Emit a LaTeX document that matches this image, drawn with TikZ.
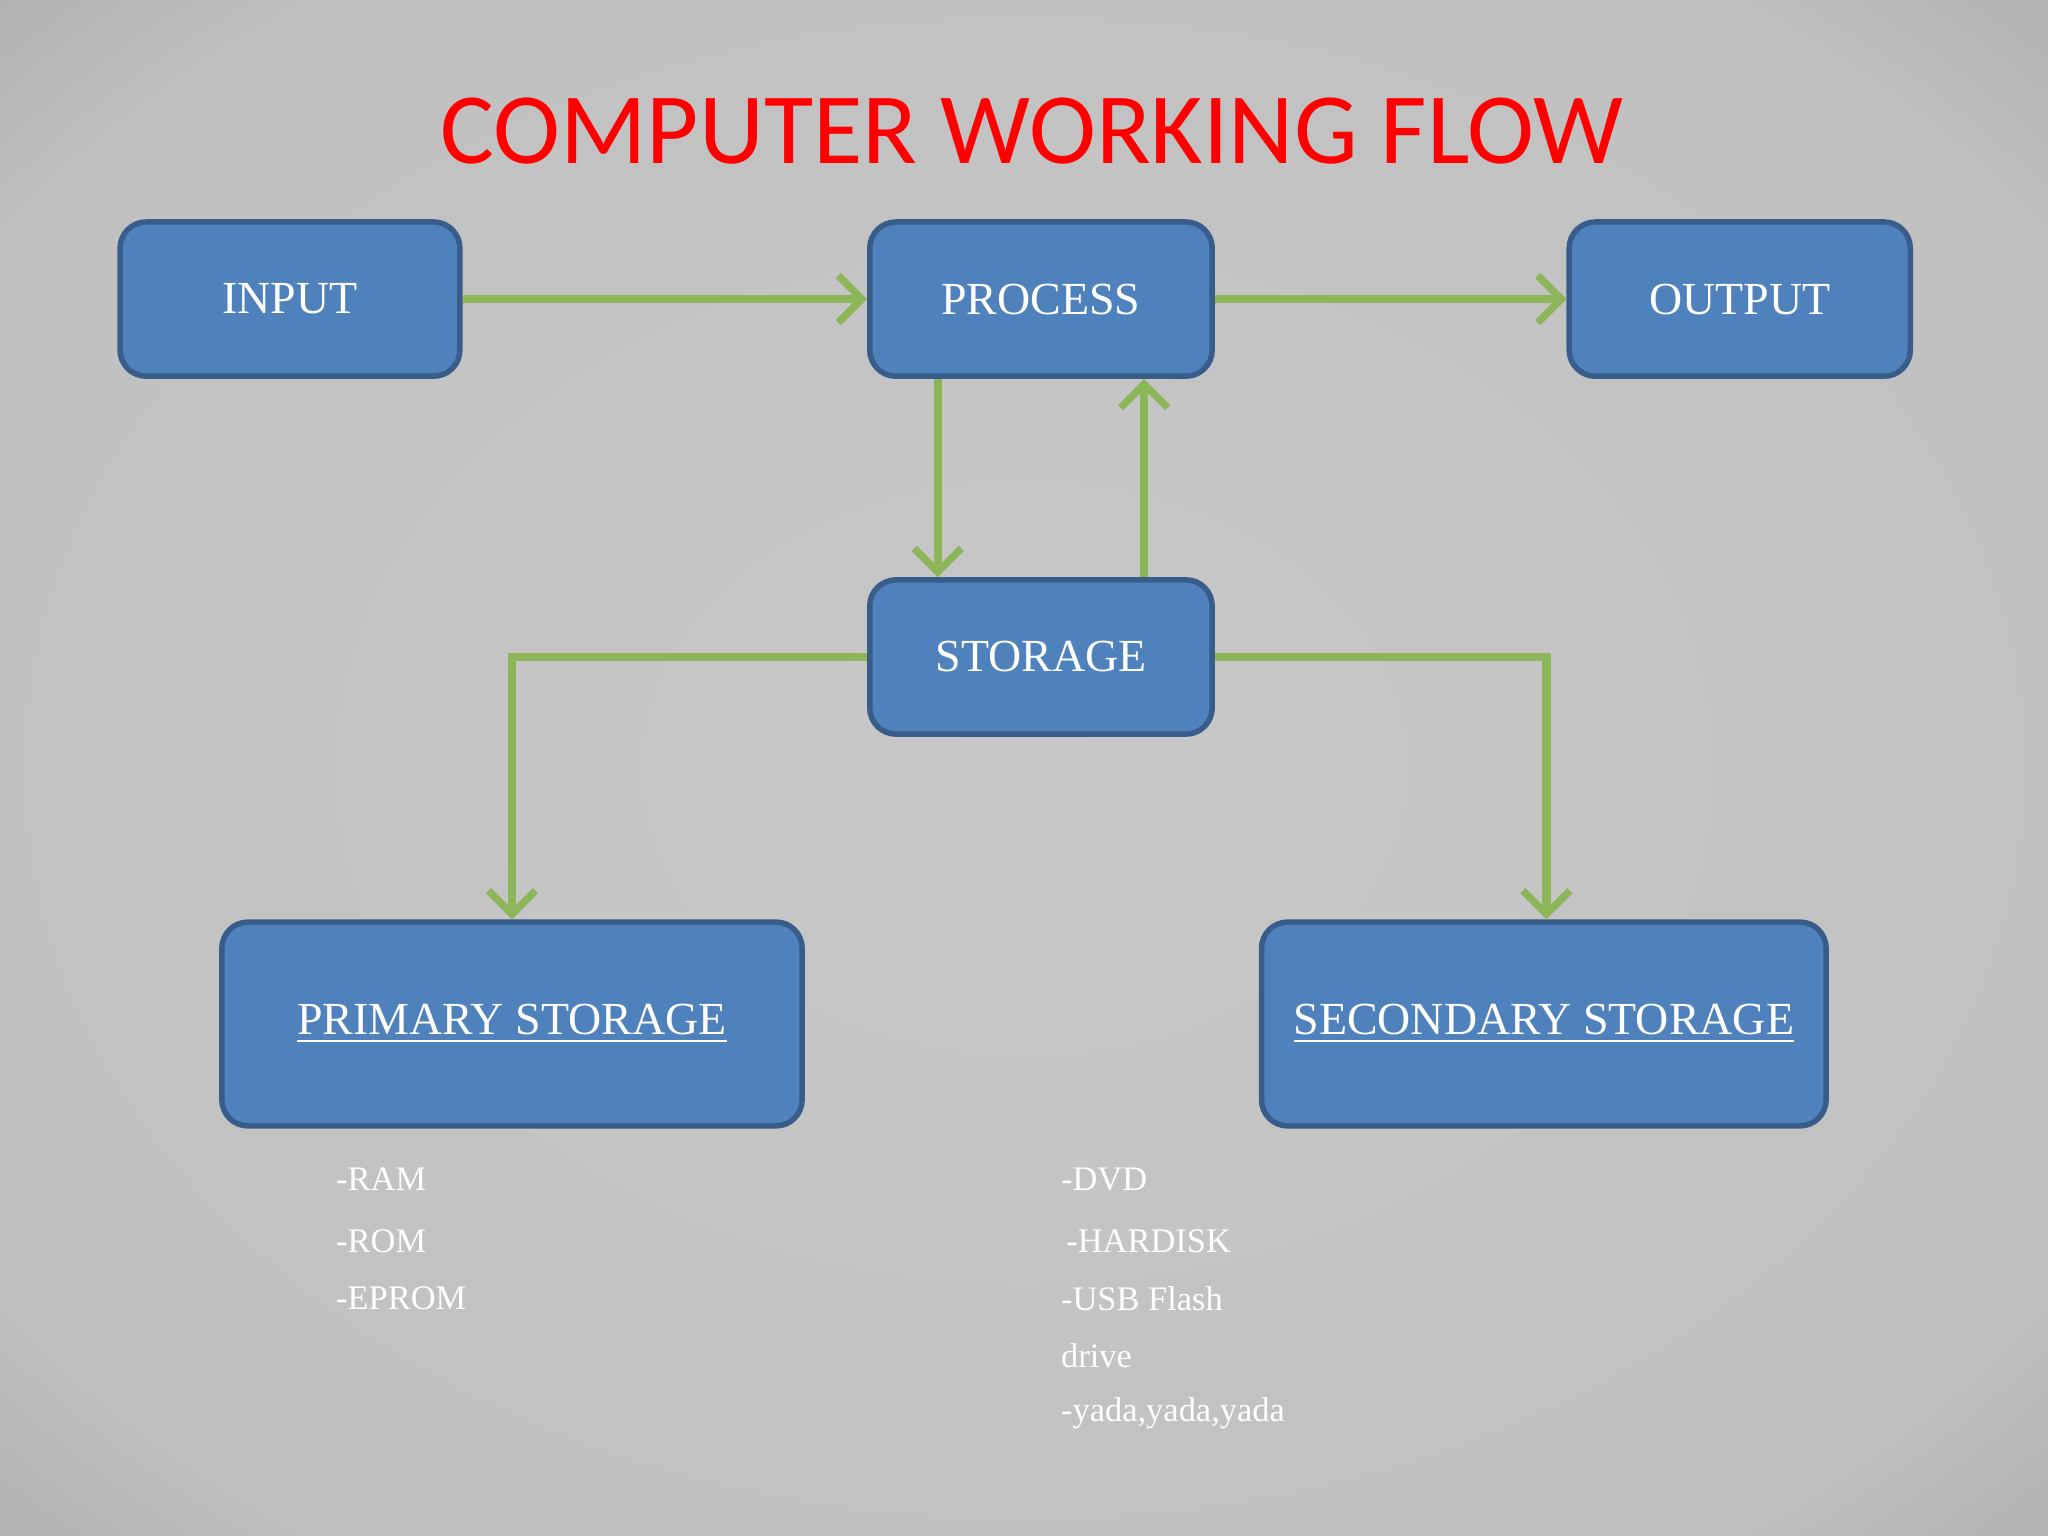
\documentclass[tikz,border=0pt]{standalone}
\usepackage{fontspec}
\setmainfont{Liberation Serif}
\newfontfamily\titlefont{Carlito}
\usetikzlibrary{arrows.meta}
\definecolor{boxfill}{HTML}{4F81BD}
\definecolor{boxline}{HTML}{385D8A}
\definecolor{arr}{HTML}{8DB55A}
\definecolor{bgA}{HTML}{C8C8C8}
\definecolor{bgB}{HTML}{C0C0C0}
\definecolor{bgC}{HTML}{555555}
\definecolor{bgD}{HTML}{161616}
\pgfdeclareradialshading{bgshade}{\pgfpoint{0bp}{0bp}}{color(0bp)=(bgA);color(30bp)=(bgB);color(71bp)=(bgC);color(100bp)=(bgD)}
\tikzset{
 blk/.style={draw=boxline,line width=1.2pt,fill=boxfill,rounded corners=0.2cm,text=white,font=\fontsize{10}{12}\selectfont},
 con/.style={draw=arr,line width=1.8pt,-{Straight Barb[length=1.8mm,width=3.6mm,line width=1.6pt]}},
 lst/.style={anchor=west,text=white,font=\fontsize{7.5}{9}\selectfont}
}
\begin{document}
\begin{tikzpicture}[x=0.01cm,y=-0.01cm]
\useasboundingbox (0,0) rectangle (1568,1176);
\shade[shading=bgshade] (0,0) rectangle (1568,1176);
\node[text=red,font=\titlefont\fontsize{22}{25}\selectfont] (title) at (790,100) {COMPUTER WORKING FLOW};
\node[blk,minimum width=2.6cm,minimum height=1.18cm] (in) at (222,229) {INPUT};
\node[blk,minimum width=2.62cm,minimum height=1.18cm] (pr) at (797,229) {PROCESS};
\node[blk,minimum width=2.61cm,minimum height=1.18cm] (out) at (1332,229) {OUTPUT};
\node[blk,minimum width=2.62cm,minimum height=1.18cm] (st) at (797,503) {STORAGE};
\node[blk,minimum width=4.44cm,minimum height=1.56cm] (pri) at (392,784) {\underline{PRIMARY STORAGE}};
\node[blk,minimum width=4.32cm,minimum height=1.56cm] (sec) at (1182,784) {\underline{SECONDARY STORAGE}};
\draw[con] (in.east) -- (pr.west);
\draw[con] (pr.east) -- (out.west);
\draw[con] (pr.south -| 718,0) -- (st.north -| 718,0);
\draw[con] (st.north -| 876,0) -- (pr.south -| 876,0);
\draw[con] (st.west) -- (392,503) -- (pri.north);
\draw[con] (st.east) -- (1184,503) -- (sec.north -| 1184,0);
\node[lst] (r1) at (245,903) {-RAM};
\node[lst] (r2) at (245,950) {-ROM};
\node[lst] (r3) at (245,994) {-EPROM};
\node[lst] (s1) at (800,903) {-DVD};
\node[lst] (s2) at (804,950) {-HARDISK};
\node[lst] (s3) at (800,994) {-USB Flash};
\node[lst] (s4) at (800,1038) {drive};
\node[lst] (s5) at (800,1082) {-yada,yada,yada};
\end{tikzpicture}
\end{document}
